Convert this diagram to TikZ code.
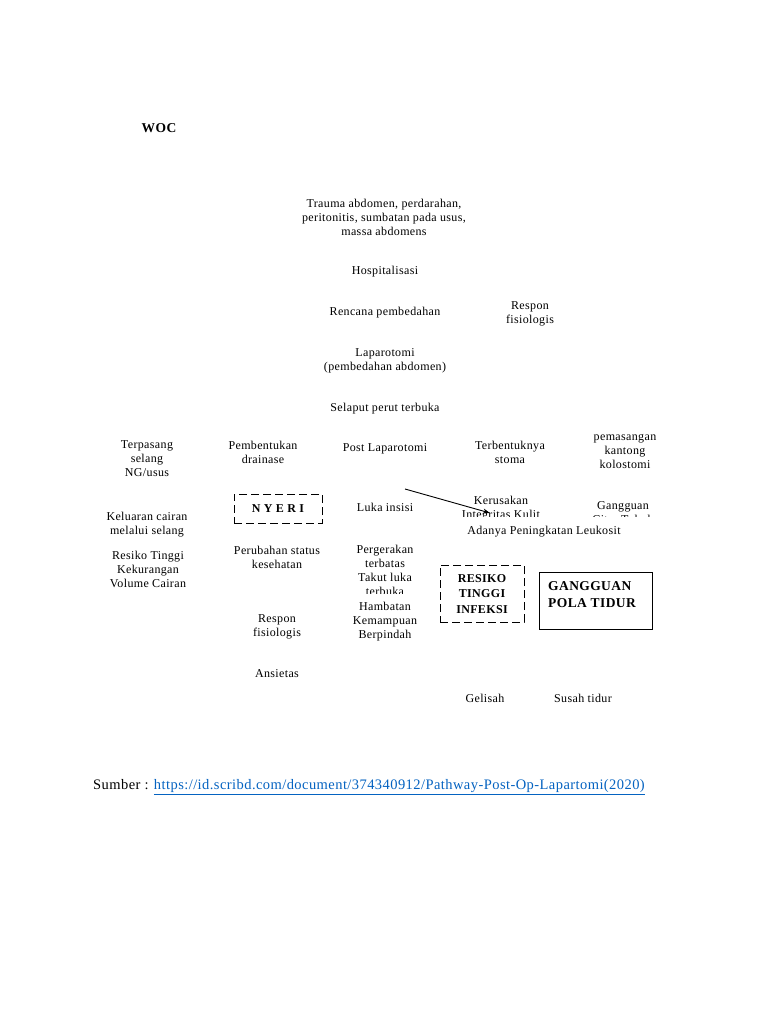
\documentclass[tikz,border=0pt]{standalone}
\usepackage{fontspec}
\setmainfont{Liberation Serif}[LetterSpace=3]
\usetikzlibrary{arrows.meta}

\definecolor{linkblue}{HTML}{0563C1}

\tikzset{
    lbl/.style={align=center, inner sep=0pt, font=\fontsize{12}{14}\selectfont},
    dashbox/.style={draw, dashed, dash pattern=on 8pt off 4pt, thick},
    plainbox/.style={draw, thick}
}

\begin{document}
\begin{tikzpicture}[x=1pt, y=-1pt]

    % Page
    \useasboundingbox[fill=white] (0,0) rectangle (768,1024);

    % Title
    \node[lbl, font=\bfseries\fontsize{13.5}{14}\selectfont] (woc) at (159,128) {WOC};

    % Main column
    \node[lbl] (trauma) at (384,217) {Trauma abdomen, perdarahan,\\peritonitis, sumbatan pada usus,\\massa abdomens};
    \node[lbl] (hosp) at (385,272) {Hospitalisasi};
    \node[lbl] (rencana) at (385,313) {Rencana pembedahan};
    \node[lbl] (respon1) at (530,314) {Respon\\fisiologis};
    \node[lbl] (lapar) at (385,361) {Laparotomi\\(pembedahan abdomen)};
    \node[lbl] (selaput) at (385,409) {Selaput perut terbuka};

    % Row after surgery
    \node[lbl] (selang) at (147,459) {Terpasang\\selang\\NG/usus};
    \node[lbl] (drain) at (263,452) {Pembentukan\\drainase};
    \node[lbl] (post) at (385,449) {Post Laparotomi};
    \node[lbl] (stoma) at (510,452) {Terbentuknya\\stoma};
    \node[lbl] (kantong) at (625,451) {pemasangan\\kantong\\kolostomi};

    % Nyeri
    \node[dashbox, minimum width=88pt, minimum height=29pt] (nyeri) at (278,508.5) {};
    \node[lbl, font=\bfseries\fontsize{12}{14}\selectfont] (nyeritxt) at (nyeri) {N Y E R I};

    \node[lbl] (keluaran) at (147,525) {Keluaran cairan\\melalui selang};
    \node[lbl] (luka) at (385,507) {Luka insisi};

    % Clipped labels
    \begin{scope}
        \clip (440,490) rectangle (565,516);
        \node[lbl] (kulit) at (501,509) {Kerusakan\\Integritas Kulit};
    \end{scope}
    \begin{scope}
        \clip (570,490) rectangle (680,516);
        \node[lbl] (citra) at (623,513) {Gangguan\\Citra Tubuh};
    \end{scope}

    \node[lbl] (leukosit) at (544,532) {Adanya Peningkatan Leukosit};

    % Lower rows
    \node[lbl] (resikocairan) at (148,569) {Resiko Tinggi\\Kekurangan\\Volume Cairan};
    \node[lbl] (perubahan) at (277,557) {Perubahan status\\kesehatan};
    \node[lbl] (gerak) at (385,556.5) {Pergerakan\\terbatas};
    \begin{scope}
        \clip (340,570) rectangle (430,593);
        \node[lbl] (takut) at (385,584) {Takut luka\\terbuka};
    \end{scope}
    \node[lbl] (hambatan) at (385,621.5) {Hambatan\\Kemampuan\\Berpindah};

    % Infeksi
    \node[dashbox, minimum width=84pt, minimum height=57pt] (infeksi) at (482,593.5) {};
    \node[lbl, font=\bfseries\fontsize{12}{15.5}\selectfont] (infeksitxt) at (482,594) {RESIKO\\TINGGI\\INFEKSI};

    % Gangguan pola tidur
    \node[plainbox, minimum width=113pt, minimum height=57pt] (tidur) at (595.5,600.5) {};
    \node[lbl, font=\bfseries\fontsize{13.5}{17}\selectfont, align=left] (tidurtxt) at (592,594.5) {GANGGUAN\\POLA TIDUR};

    \node[lbl] (respon2) at (277,626.5) {Respon\\fisiologis};
    \node[lbl] (ansietas) at (277,674) {Ansietas};
    \node[lbl] (gelisah) at (485,698) {Gelisah};
    \node[lbl] (susah) at (583,698) {Susah tidur};

    % Arrow
    \coordinate (arrstart) at (405,489);
    \coordinate (arrend) at (490,513);
    \draw[line width=0.9pt, -{Stealth[length=7pt, width=5pt]}] (arrstart) -- (arrend);

    % Source
    \node[anchor=west, inner sep=0pt, font=\fontsize{14.5}{16}\selectfont] (sumber) at (93,787)
        {Sumber : \textcolor{linkblue}{\underline{https://id.scribd.com/document/374340912/Pathway-Post-Op-Lapartomi(2020)}}};

\end{tikzpicture}
\end{document}
